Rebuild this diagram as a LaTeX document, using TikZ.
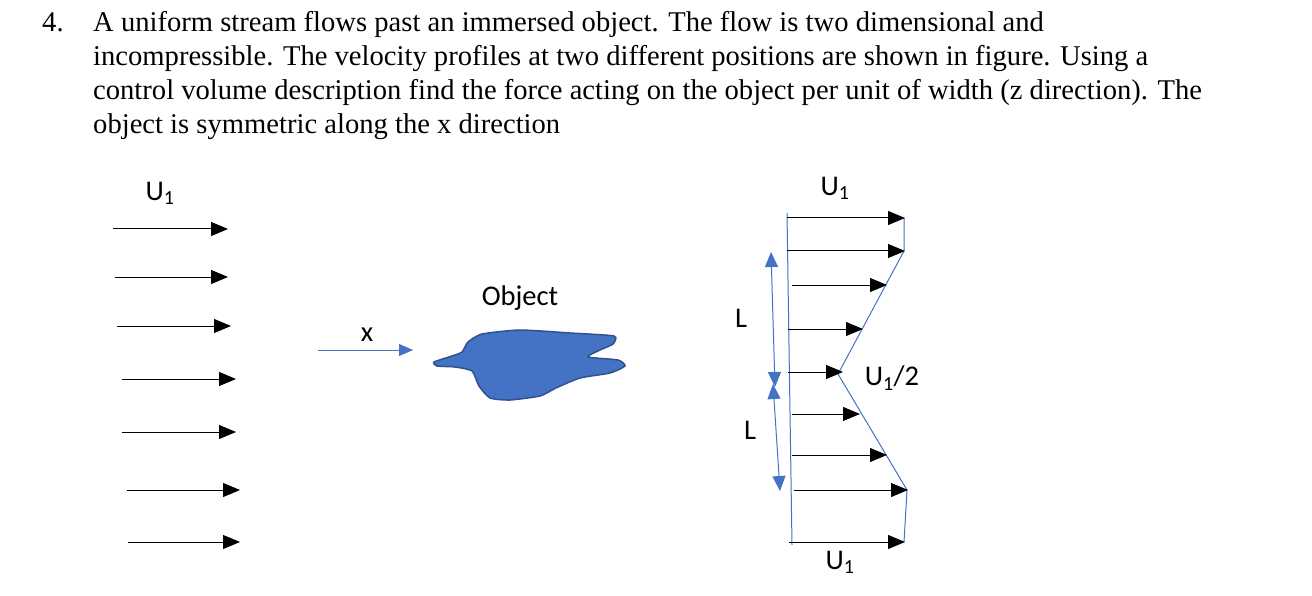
\documentclass[tikz,border=0pt]{standalone}
\usepackage{fontspec}
\setmainfont{Liberation Serif}
\newfontfamily\lab{Carlito}
\usetikzlibrary{arrows.meta}
\definecolor{objblue}{RGB}{68,114,196}
\definecolor{objedge}{RGB}{47,82,143}
\tikzset{
 title/.style={anchor=base west,inner sep=0,font=\fontsize{28.6}{32}\selectfont},
 lbl/.style={inner sep=0,font=\lab\fontsize{28.5}{30}\selectfont},
 flow/.style={-{Triangle[length=17pt,width=14pt]},line width=1pt},
 bflow/.style={-{Triangle[length=14pt,width=12pt]},line width=1pt,objblue},
 dim/.style={{Triangle[length=15pt,width=13pt]}-{Triangle[length=15pt,width=13pt]},line width=1pt,objblue},
 prof/.style={objblue,line width=1pt}
}
\begin{document}
\begin{tikzpicture}[x=1pt,y=-1pt]
\useasboundingbox (0,0) rectangle (1312,596);
\node[title] (n4) at (42,32) {4.};
\node[title] (t1) at (93,32) {A uniform stream flows past an immersed object. The flow is two dimensional and};
\node[title] (t2) at (93,66) {incompressible. The velocity profiles at two different positions are shown in figure. Using a};
\node[title] (t3) at (93,100) {control volume description find the force acting on the object per unit of width (z direction). The};
\node[title] (t4) at (93,134) {object is symmetric along the x direction};
% left arrows
\node[lbl] (uleft) at (160,193) {U\textsubscript{1}};
\foreach \i/\y/\a/\b in {1/229/113/228,2/277/115/228,3/326/117/231,4/379/122/236,5/432/122/236,6/490/127/240,7/542/128/240}{
 \coordinate (ls\i) at (\a,\y); \coordinate (le\i) at (\b,\y);
 \draw[flow] (ls\i) -- (le\i);}
% x arrow
\node[lbl] (xl) at (367,335) {x};
\coordinate (xs) at (318,350); \coordinate (xe) at (413,350);
\draw[bflow] (xs) -- (xe);
% object
\node[lbl] (objl) at (520,298) {Object};
\draw[objedge,fill=objblue,line width=1.5pt] plot[smooth cycle,tension=0.35] coordinates {
(434,362) (452,356) (462,352) (468,342) (482,334) (520,330) (570,333) (614,336) (613,344) (600,350) (588,357) (618,360) (625,366) (610,373) (580,378) (556,388) (540,396) (510,400) (490,398) (479,386) (472,371) (455,367) (437,366)};
% right profile
\coordinate (vt) at (787,213); \coordinate (vb) at (792,545);
\draw[prof] (vt) -- (vb);
\coordinate (p1) at (904,218); \coordinate (p2) at (904,251); \coordinate (p3) at (838,374);
\coordinate (p4) at (907,490); \coordinate (p5) at (904,542);
\draw[prof] (p1) -- (p2) -- (p3) -- (p4) -- (p5);
\foreach \i/\y/\a/\b in {1/218/787/905,2/251/787/905,3/285/792/887,4/329/788/863,5/372/788/843,6/414/792/860,7/455/792/887,8/490/794/908,9/542/789/905}{
 \coordinate (rs\i) at (\a,\y); \coordinate (re\i) at (\b,\y);
 \draw[flow] (rs\i) -- (re\i);}
\coordinate (d1) at (771,252); \coordinate (d2) at (775,387);
\coordinate (d3) at (773,384); \coordinate (d4) at (780,491);
\draw[dim] (d1) -- (d2);
\draw[dim] (d3) -- (d4);
\node[lbl] (L1) at (741,318) {L};
\node[lbl] (L2) at (750,430) {L};
\node[lbl] (ut) at (835,188) {U\textsubscript{1}};
\node[lbl] (ub) at (840,562) {U\textsubscript{1}};
\node[lbl] (uh) at (892,378) {U\textsubscript{1}/2};
\end{tikzpicture}
\end{document}
